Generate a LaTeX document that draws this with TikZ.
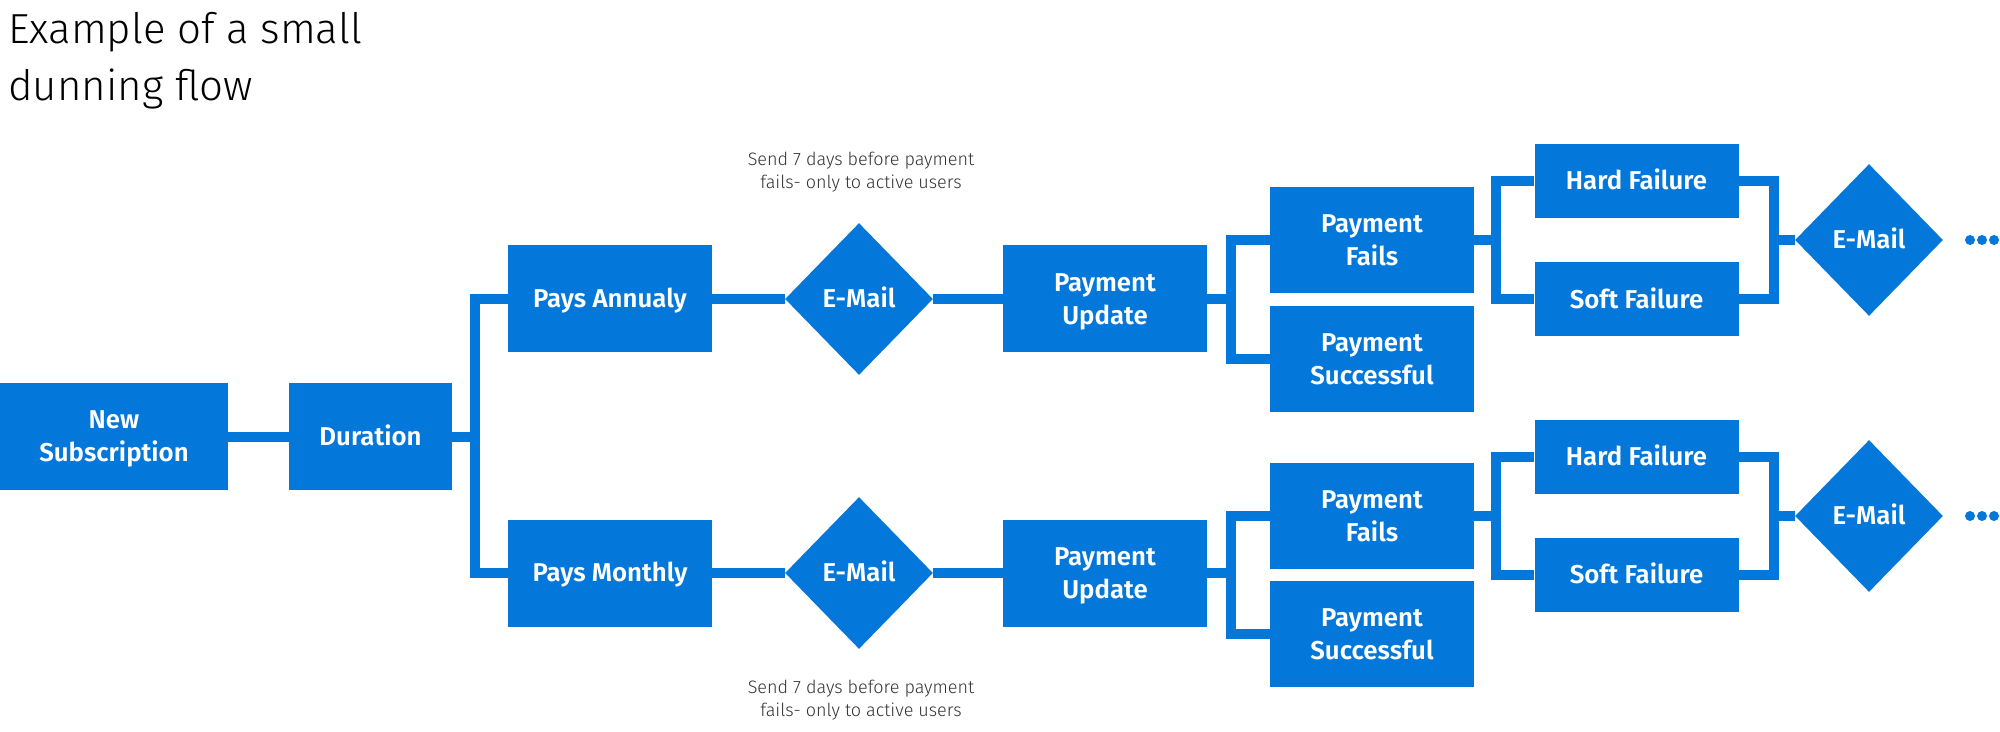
\documentclass[tikz,border=0pt]{standalone}
\usepackage{fontspec}
\usetikzlibrary{shapes.geometric}
\newfontfamily\lightfont{Fira Sans Light}
\newfontfamily\semifont{Fira Sans SemiBold}
\definecolor{dblue}{RGB}{3,120,218}
\definecolor{anno}{RGB}{51,51,51}
\begin{document}
\begin{tikzpicture}[x=0.5pt,y=-0.5pt,
  box/.style={rectangle, fill=dblue, inner sep=0pt, text=white, align=center,
    font=\semifont\fontsize{12.9}{16.5}\selectfont, minimum width=102pt, minimum height=53.5pt},
  dmd/.style={diamond, fill=dblue, inner sep=0pt, text=white,
    font=\semifont\fontsize{12.9}{16.5}\selectfont, minimum width=74pt, minimum height=76pt,
    text height=8.9pt, text depth=0pt},
  one/.style={text height=8.9pt, text depth=0pt},
  two/.style={text height=25.4pt, text depth=0pt},
  conn/.style={draw=dblue, line width=5pt},
  note/.style={align=center, text=anno, inner sep=0pt,
    font=\lightfont\fontsize{9}{11.5}\selectfont},
  dotn/.style={circle, fill=dblue, minimum size=5pt, inner sep=0pt}
]
\useasboundingbox (0,0) rectangle (2000,732);

% title
\node[anchor=north west, inner sep=0pt, align=left, text=black,
  font=\lightfont\fontsize{21}{28.5}\selectfont] (title) at (8,12)
  {Example of a small\\dunning flow};

% left part
\node[box, two, minimum width=114pt] (ns) at (114,436.5) {New\\Subscription};
\node[box, one, minimum width=81.5pt] (dur) at (370.5,436.5) {Duration};
\node[box, one] (pa) at (610,299) {Pays Annualy};
\node[box, one] (pm) at (610,573) {Pays Monthly};
\node[dmd] (ea) at (859,299) {E-Mail};
\node[dmd] (em) at (859,573) {E-Mail};
\node[note] (na) at (861,172.5) {Send 7 days before payment\\fails- only to active users};
\node[note] (nm) at (861,700) {Send 7 days before payment\\fails- only to active users};
\node[box, two] (pua) at (1105,299) {Payment\\Update};
\node[box, two] (pum) at (1105,573) {Payment\\Update};

% top branch
\node[box, two, minimum height=53pt] (pfa) at (1372,240) {Payment\\Fails};
\node[box, two, minimum height=53pt] (psa) at (1372,359) {Payment\\Successful};
\node[box, one, minimum height=37pt] (hfa) at (1636.5,181) {Hard Failure};
\node[box, one, minimum height=37pt] (sfa) at (1636.5,299.5) {Soft Failure};
\node[dmd] (efa) at (1869,240) {E-Mail};
\node[dotn] (da1) at (1970,240) {};
\node[dotn] (da2) at (1982,240) {};
\node[dotn] (da3) at (1994,240) {};

% bottom branch
\node[box, two, minimum height=53pt] (pfm) at (1372,516) {Payment\\Fails};
\node[box, two, minimum height=53pt] (psm) at (1372,634) {Payment\\Successful};
\node[box, one, minimum height=37pt] (hfm) at (1636.5,457) {Hard Failure};
\node[box, one, minimum height=37pt] (sfm) at (1636.5,575) {Soft Failure};
\node[dmd] (efm) at (1869,516) {E-Mail};
\node[dotn] (dm1) at (1970,516) {};
\node[dotn] (dm2) at (1982,516) {};
\node[dotn] (dm3) at (1994,516) {};

% junctions
\coordinate (j1) at (474.5,436.5);
\coordinate (j2a) at (1231,299);
\coordinate (j3a) at (1496,240);
\coordinate (j4a) at (1774,240);
\coordinate (j2m) at (1231,573);
\coordinate (j3m) at (1496,516);
\coordinate (j4m) at (1774,516);

% connectors
\draw[conn] (ns.east) -- (dur.west);
\draw[conn] (dur.east) -- (j1);
\draw[conn] (pa.west) -| (j1) |- (pm.west);
\draw[conn] (pa.east) -- (ea.west);
\draw[conn] (pm.east) -- (em.west);
\draw[conn] (ea.east) -- (pua.west);
\draw[conn] (em.east) -- (pum.west);

\draw[conn] (pua.east) -- (j2a);
\draw[conn] (pfa.west) -| (j2a) |- (psa.west);
\draw[conn] (pfa.east) -- (j3a);
\draw[conn] (hfa.west) -| (j3a) |- (sfa.west);
\draw[conn] (hfa.east) -| (j4a) |- (sfa.east);
\draw[conn] (j4a) -- (efa.west);

\draw[conn] (pum.east) -- (j2m);
\draw[conn] (pfm.west) -| (j2m) |- (psm.west);
\draw[conn] (pfm.east) -- (j3m);
\draw[conn] (hfm.west) -| (j3m) |- (sfm.west);
\draw[conn] (hfm.east) -| (j4m) |- (sfm.east);
\draw[conn] (j4m) -- (efm.west);
\end{tikzpicture}
\end{document}
